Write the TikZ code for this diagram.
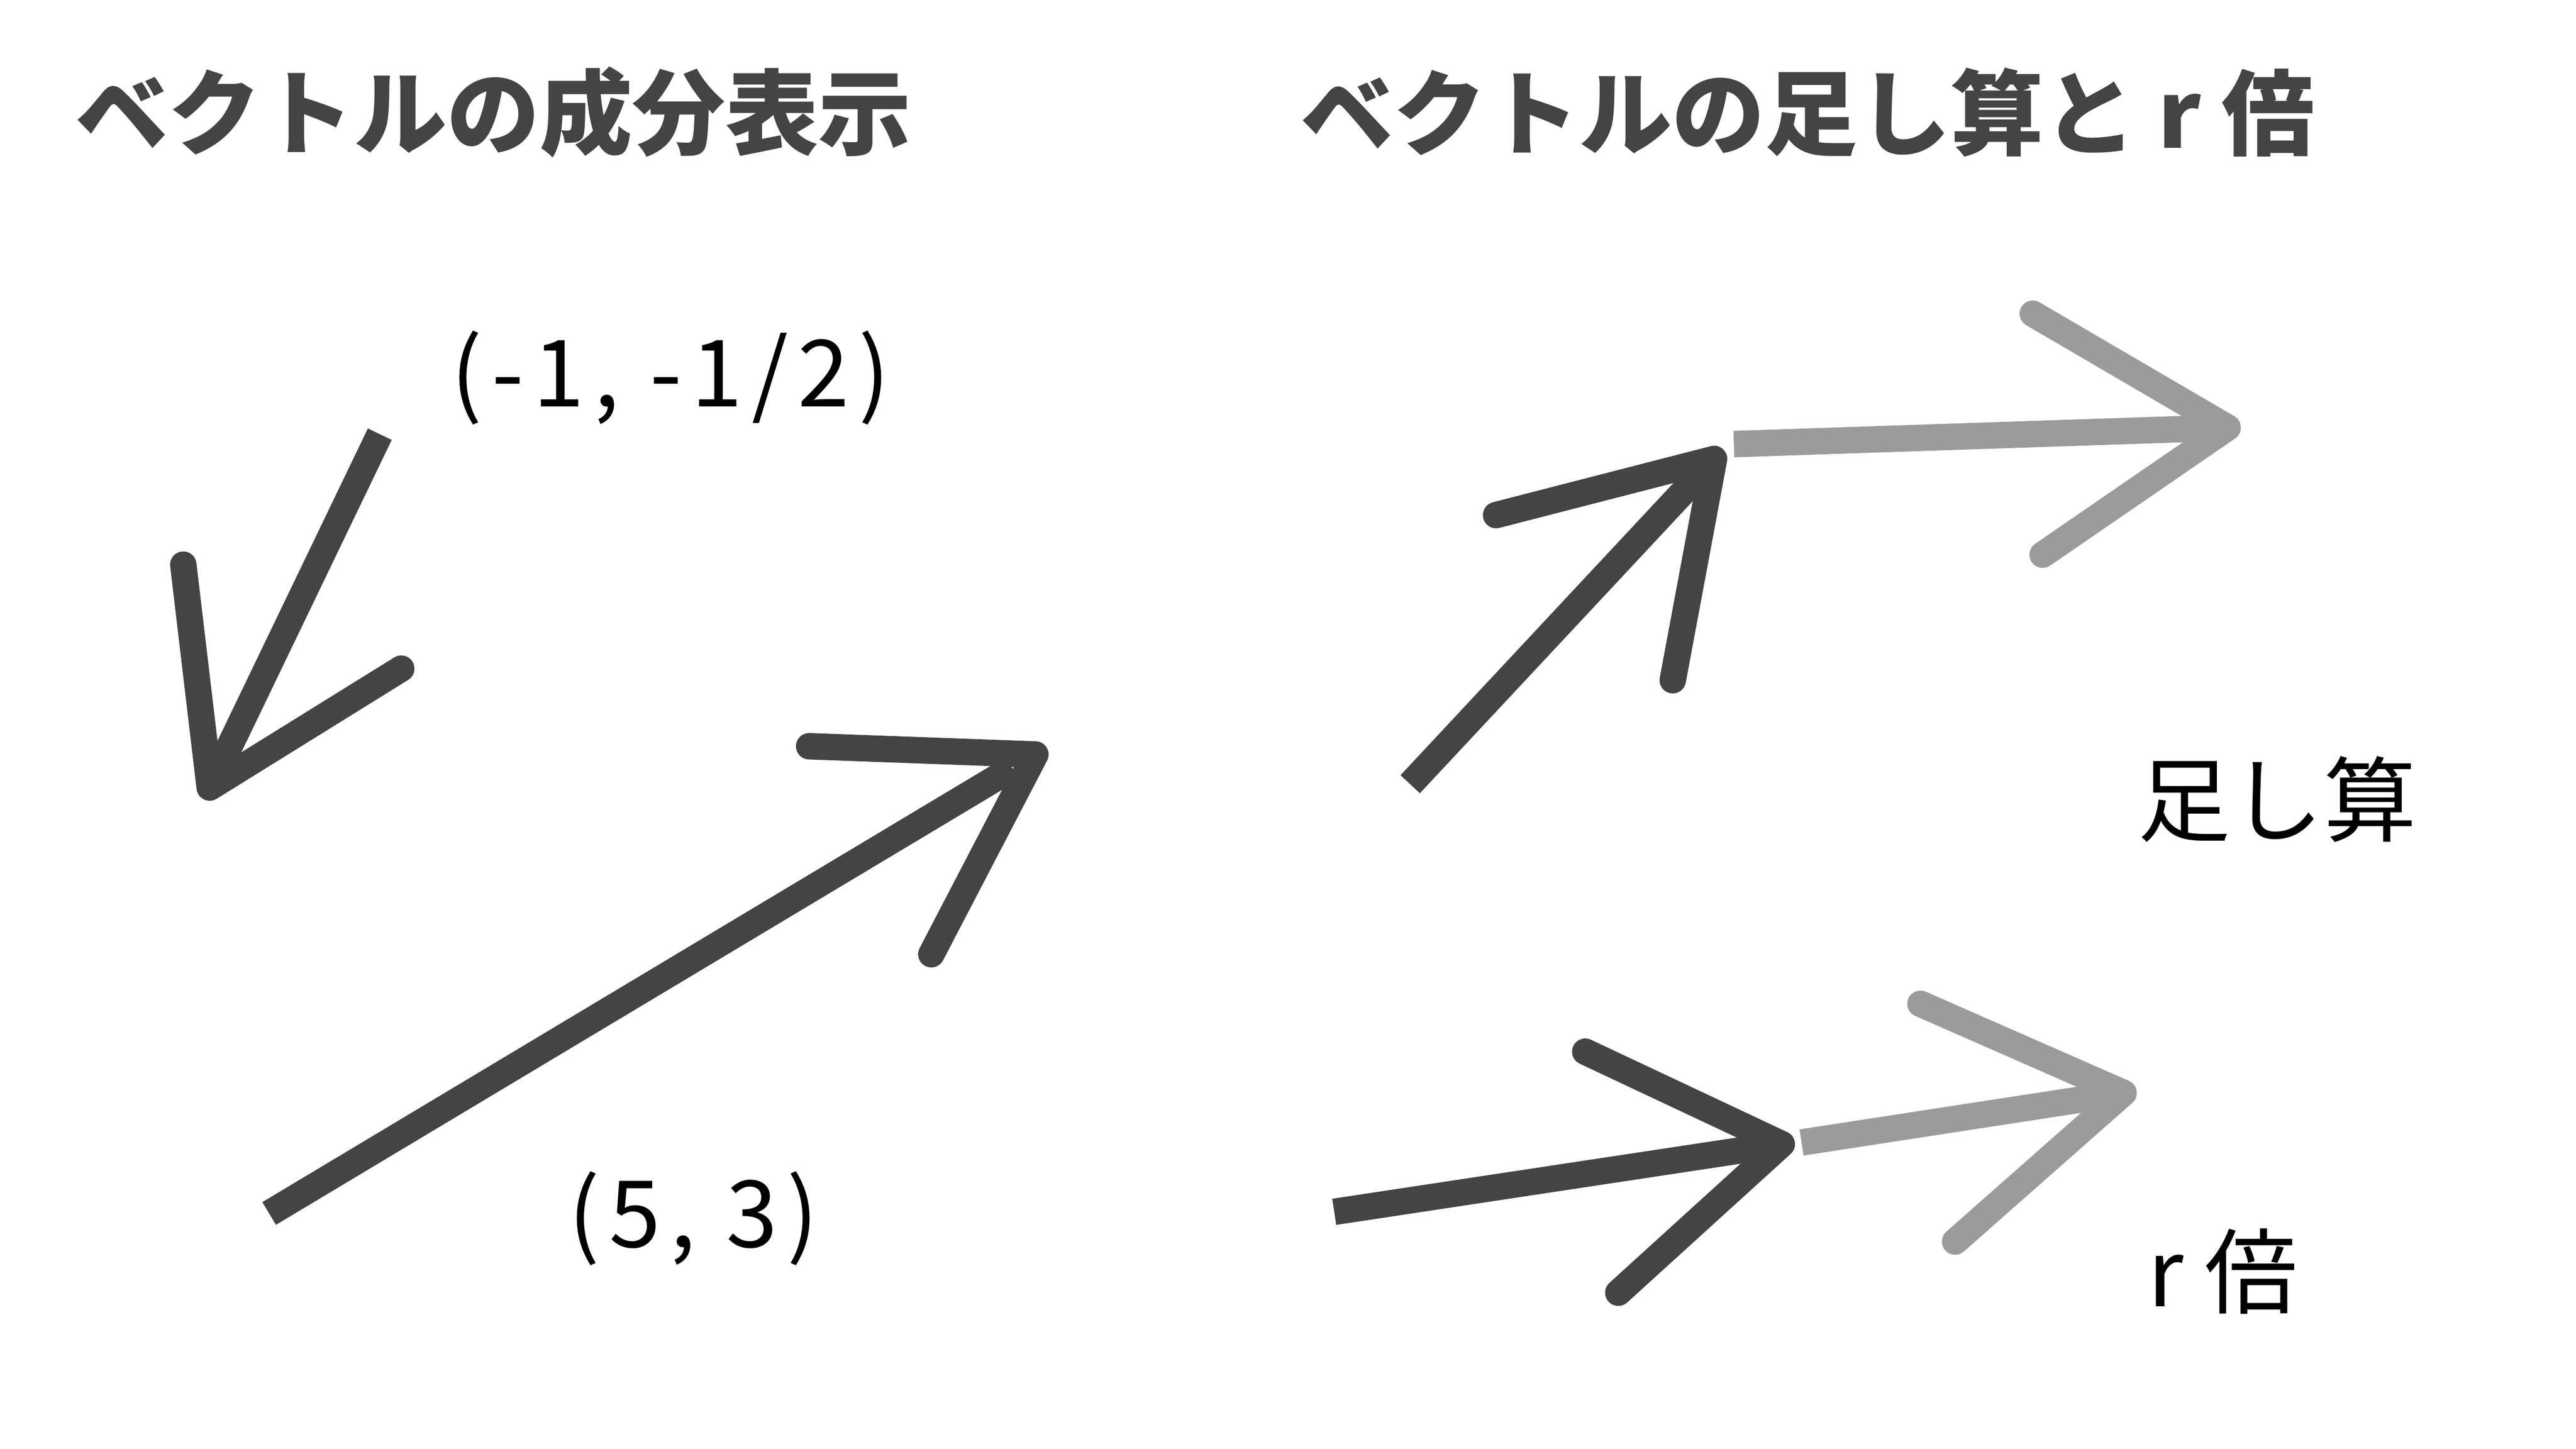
\documentclass[tikz,border=0pt]{standalone}
\usepackage{fontspec}
\usetikzlibrary{calc}
\setmainfont{Noto Sans CJK JP}
\newfontfamily\numfont[LetterSpace=10]{Noto Sans CJK JP}
\begin{document}
\begin{tikzpicture}[x=0.1mm,y=-0.1mm,
  dark/.style={draw=darkgray44,line width=1.6mm,line join=round},
  light/.style={draw=gray9b,line width=1.6mm,line join=round},
  headline/.style={line cap=round},
  shaft/.style={line cap=butt},
  title/.style={text=darkgray44,font=\fontsize{16}{18}\selectfont\bfseries,inner sep=0pt},
  lbl/.style={text=black,font=\fontsize{16}{19}\selectfont,inner sep=0pt},
  numlbl/.style={text=black,font=\fontsize{16}{19}\selectfont\numfont,inner sep=0pt}]
\definecolor{darkgray44}{HTML}{444444}
\definecolor{gray9b}{HTML}{9B9B9B}
\useasboundingbox[fill=white] (0,0) rectangle (1560,877.5);
% titles
\node[title,anchor=west] (t1) at (45,68) {ベクトルの成分表示};
\node[title,anchor=west] (t2) at (787,68) {ベクトルの足し算と r 倍};
% left panel arrow 1
\coordinate (a1s) at (230,263);
\coordinate (a1t) at (127,477);
\coordinate (a1l) at (111,342);
\coordinate (a1r) at (243,405);
\draw[dark,shaft] (a1s) -- ($(a1t)!0.05!(a1s)$);
\draw[dark,headline] (a1l) -- (a1t) -- (a1r);
% left panel arrow 2
\coordinate (a2s) at (163,735);
\coordinate (a2t) at (627,457);
\coordinate (a2l) at (490,452);
\coordinate (a2r) at (564,578);
\draw[dark,shaft] (a2s) -- ($(a2t)!0.03!(a2s)$);
\draw[dark,headline] (a2l) -- (a2t) -- (a2r);
\node[numlbl] (l1) at (406,229) {(-1, -1/2)};
\node[numlbl] (l2) at (420,738) {(5, 3)};
% top right: addition
\coordinate (b1s) at (854,475);
\coordinate (b1t) at (1038,278);
\coordinate (b1l) at (906,312);
\coordinate (b1r) at (1013,412);
\draw[dark,shaft] (b1s) -- ($(b1t)!0.05!(b1s)$);
\draw[dark,headline] (b1l) -- (b1t) -- (b1r);
\coordinate (b2s) at (1050,269);
\coordinate (b2t) at (1349,259);
\coordinate (b2l) at (1231,190);
\coordinate (b2r) at (1237,336);
\draw[light,shaft] (b2s) -- ($(b2t)!0.04!(b2s)$);
\draw[light,headline] (b2l) -- (b2t) -- (b2r);
\node[lbl] (l3) at (1379,484) {足し算};
% bottom right: scalar multiple
\coordinate (c1s) at (808,734);
\coordinate (c1t) at (1079,693);
\coordinate (c1l) at (960,637);
\coordinate (c1r) at (980,783);
\draw[dark,shaft] (c1s) -- ($(c1t)!0.04!(c1s)$);
\draw[dark,headline] (c1l) -- (c1t) -- (c1r);
\coordinate (c2s) at (1091,692);
\coordinate (c2t) at (1286,662);
\coordinate (c2l) at (1163,608);
\coordinate (c2r) at (1184,752);
\draw[light,shaft] (c2s) -- ($(c2t)!0.06!(c2s)$);
\draw[light,headline] (c2l) -- (c2t) -- (c2r);
\node[lbl] (l4) at (1346,770) {r 倍};
\end{tikzpicture}
\end{document}
